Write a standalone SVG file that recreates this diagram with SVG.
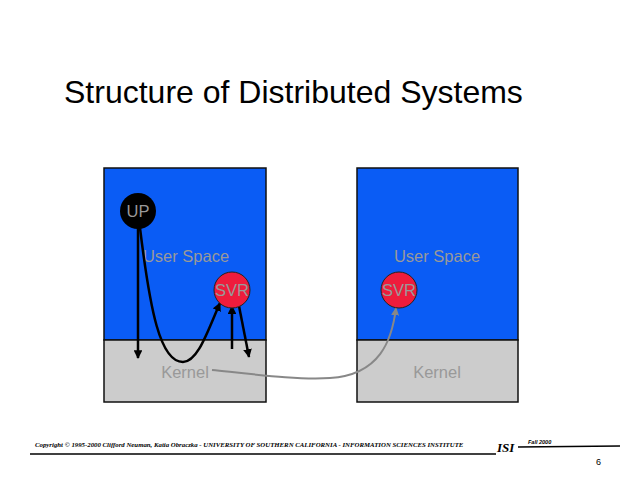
<svg xmlns="http://www.w3.org/2000/svg" width="638" height="493" viewBox="0 0 638 493">
<defs>
<marker id="ah" viewBox="0 0 10 10" refX="9" refY="5" markerWidth="3.5" markerHeight="3.5" orient="auto"><path d="M0,0 L10,5 L0,10 z" fill="#000"/></marker>
<marker id="ag" viewBox="0 0 10 10" refX="9" refY="5" markerWidth="4" markerHeight="4" orient="auto"><path d="M0,0 L10,5 L0,10 z" fill="#888"/></marker>
</defs>
<style>
.lbl{font-family:"Liberation Sans",Arial,sans-serif;font-size:16.5px;fill:#999;text-anchor:middle}
.us{fill:#0a5cf5;stroke:#111;stroke-width:1.5}
.kn{fill:#cccccc;stroke:#111;stroke-width:1.5}
.svr{fill:#ee1c3c;stroke:#222;stroke-width:1}
.a{fill:none;stroke:#000;stroke-width:2.5;marker-end:url(#ah)}
</style>
<rect width="638" height="493" fill="#fff"/>
<text x="64" y="103" font-family="Liberation Sans,Arial,sans-serif" font-size="32" fill="#000">Structure of Distributed Systems</text>
<g id="left">
<rect class="us" x="104" y="168" width="162" height="172"/>
<rect class="kn" x="104" y="340" width="162" height="62"/>
<text class="lbl" x="186" y="262">User Space</text>
<text class="lbl" x="185" y="378">Kernel</text>
</g>
<g id="right">
<rect class="us" x="357" y="168" width="161" height="172"/>
<rect class="kn" x="357" y="340" width="161" height="62"/>
<text class="lbl" x="437" y="262">User Space</text>
<text class="lbl" x="437" y="378">Kernel</text>
</g>
<g id="connectors">
<path class="a" d="M138,228 L138,358"/>
<path class="a" d="M140,228 C150,310 160,362 183,362 C198,362 208,330 220,303"/>
<path class="a" d="M232,349 L232,306"/>
<path class="a" d="M239,306 L249,357"/>
<path d="M212,370 C260,375 300,380 330,378 C380,375 392,340 396,308" fill="none" stroke="#888" stroke-width="2" marker-end="url(#ag)"/>
</g>
<g id="up"><circle cx="138" cy="211" r="18" fill="#000"/><text class="lbl" x="138" y="217">UP</text></g>
<g id="svr1"><circle class="svr" cx="232" cy="290" r="18"/><text class="lbl" x="232" y="296">SVR</text></g>
<g id="svr2"><circle class="svr" cx="399" cy="290" r="18"/><text class="lbl" x="399" y="296">SVR</text></g>
<g id="footer">
<line x1="30" y1="454" x2="496" y2="454" stroke="#000" stroke-width="1.5"/>
<line x1="518" y1="447" x2="620" y2="446" stroke="#000" stroke-width="1.5"/>
<text x="35" y="447" font-family="Liberation Serif,serif" font-size="6.8" font-style="italic" font-weight="bold" fill="#000">Copyright © 1995-2000 Clifford Neuman, Katia Obraczka - UNIVERSITY OF SOUTHERN CALIFORNIA - INFORMATION SCIENCES INSTITUTE</text>
<text x="497" y="452" font-family="Liberation Serif,serif" font-size="13" font-style="italic" font-weight="bold" fill="#000">ISI</text>
<text x="528" y="444" font-family="Liberation Sans,sans-serif" font-size="5.5" font-style="italic" font-weight="bold" fill="#000">Fall 2000</text>
<text x="596" y="465" font-family="Liberation Sans,sans-serif" font-size="9" fill="#000">6</text>
</g>
</svg>
